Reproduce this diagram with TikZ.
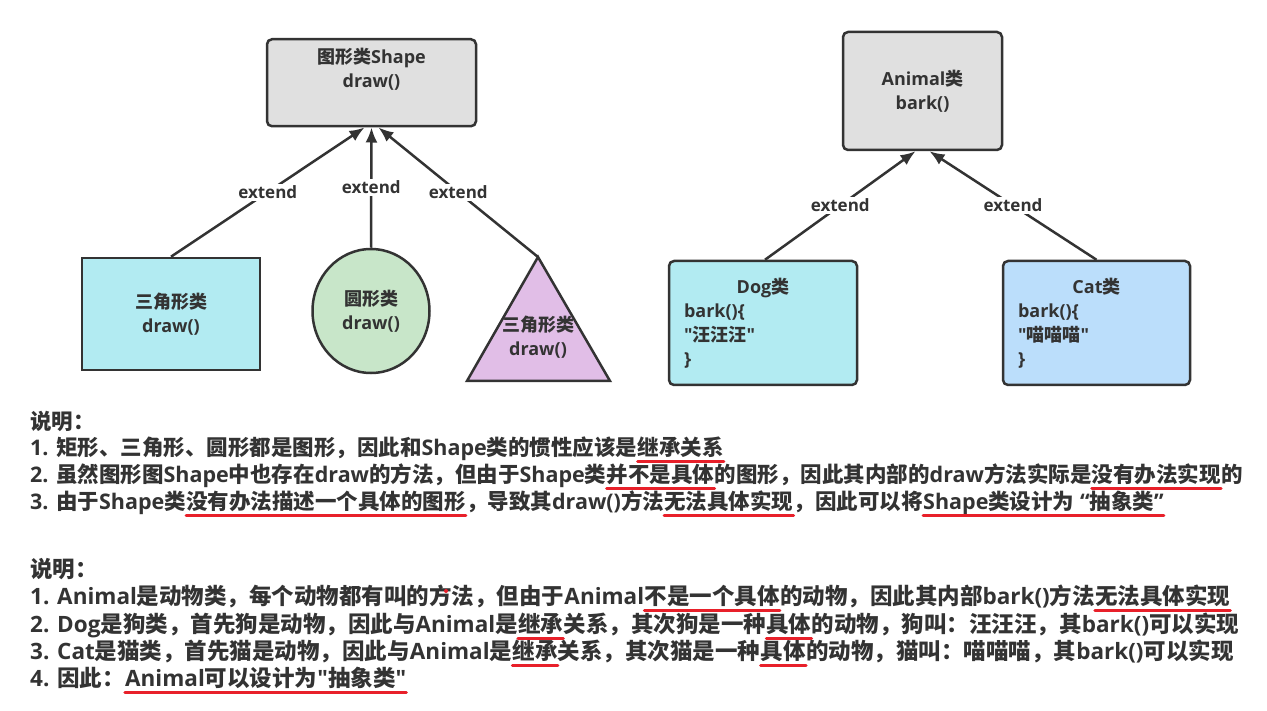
\documentclass[tikz,border=0pt]{standalone}
\usepackage{fontspec}
\newfontfamily\latfont{Open Sans}
\newfontfamily\cjkfont{Noto Sans CJK SC}
% automatic switch: CJK characters in Noto Sans CJK SC, Latin in Open Sans
\XeTeXinterchartokenstate=1
\newXeTeXintercharclass\cjkcls
\newcount\cjkc
\def\setcjkrange#1#2{\cjkc=#1\relax
  \loop\XeTeXcharclass\cjkc=\cjkcls\relax
  \ifnum\cjkc<#2\relax\advance\cjkc by 1\repeat}
\setcjkrange{"3000}{"303F}
\setcjkrange{"4E00}{"9FFF}
\setcjkrange{"FF00}{"FFEF}
\XeTeXinterchartoks 0 \cjkcls = {\cjkfont}
\XeTeXinterchartoks 4095 \cjkcls = {\cjkfont}
\XeTeXinterchartoks \cjkcls 0 = {\latfont}
\XeTeXinterchartoks \cjkcls 4095 = {\latfont}
\usetikzlibrary{arrows.meta,shapes.geometric}
\definecolor{ink}{HTML}{333333}
\definecolor{boxgray}{HTML}{E0E0E0}
\definecolor{cyanfill}{HTML}{B2EBF2}
\definecolor{greenfill}{HTML}{C8E6C9}
\definecolor{purplefill}{HTML}{E1BEE7}
\definecolor{bluefill}{HTML}{BBDEFB}
\definecolor{redline}{HTML}{E8202A}
\tikzset{
  outline/.style={draw=ink, line width=2.5pt},
  classbox/.style={outline, rounded corners=5pt, fill=boxgray},
  boxtxt/.style={text=ink, align=center, inner sep=0pt, font=\latfont\bfseries\fontsize{18}{24}\selectfont},
  conn/.style={draw=ink, line width=2.5pt, -{Latex[length=15pt,width=12pt]}},
  lbl/.style={fill=white, inner sep=2pt, text=ink, font=\latfont\bfseries\fontsize{17}{20}\selectfont},
  txt/.style={anchor=base west, inner sep=0pt, text=ink, font=\latfont\bfseries\fontsize{21.5}{27}\selectfont},
  txtb/.style={txt, font=\latfont\bfseries\fontsize{22.5}{27}\selectfont},
  uline/.style={draw=redline, line width=3pt, line cap=round},
}
\newcommand{\ul}[1]{\draw[uline] ([yshift=-5.5pt]#1.base west) -- ([yshift=-5.5pt]#1.base east);}
\begin{document}
\begin{tikzpicture}[x=1pt,y=-1pt]
\useasboundingbox[fill=white] (0,0) rectangle (1267,711);

% ---------- left diagram ----------
\node[classbox, minimum width=209pt, minimum height=87pt, anchor=north] (shape) at (371.5,38) {};
\node[boxtxt] (shapetxt) at ([yshift=-31.5pt]shape.north) {图形类Shape\\draw()};

\node[outline, fill=cyanfill, minimum width=178pt, minimum height=112pt, boxtxt, inner sep=0pt] (rect) at (171,314) {三角形类\\draw()};
\node[outline, ellipse, fill=greenfill, minimum width=117pt, minimum height=124pt, boxtxt, inner sep=0pt] (circ) at (371,311) {圆形类\\draw()};

\coordinate (triapex) at (538,257);
\coordinate (trileft) at (467,381);
\coordinate (triright) at (610,381);
\draw[outline, fill=purplefill, line join=miter] (triapex) -- (triright) -- (trileft) -- cycle;
\node[boxtxt] (tritxt) at (538,337) {三角形类\\draw()};

\draw[conn] (rect.north) -- node[lbl]{extend} ([xshift=-7pt]shape.south);
\draw[conn] (circ.north) -- node[lbl]{extend} (shape.south);
\draw[conn] (triapex) -- node[lbl]{extend} ([xshift=7pt]shape.south);

% ---------- right diagram ----------
\node[classbox, minimum width=159pt, minimum height=118pt, boxtxt] (animal) at (922.5,91) {Animal类\\bark()};
\node[classbox, fill=cyanfill, minimum width=188pt, minimum height=124pt, boxtxt, align=left, text width=158pt] (dog) at (763,323)
  {\makebox[\linewidth][c]{Dog类}\\bark()\{\\"汪汪汪"\\\}};
\node[classbox, fill=bluefill, minimum width=187pt, minimum height=124pt, boxtxt, align=left, text width=157pt] (cat) at (1096.5,323)
  {\makebox[\linewidth][c]{Cat类}\\bark()\{\\"喵喵喵"\\\}};

\draw[conn] ([xshift=2pt]dog.north) -- node[lbl]{extend} ([xshift=-7pt]animal.south);
\draw[conn] (cat.north) -- node[lbl]{extend} ([xshift=7pt]animal.south);

% ---------- text block 1 ----------
\node[txt] (a0) at (30,429) {说明：};
\node[txt] (a1) at (30,455.5) {1. 矩形、三角形、圆形都是图形，因此和Shape类的惯性应该是};
\node[txt] (a1u) at (a1.base east) {继承关系};
\node[txt] (a2) at (30,482.5) {2. 虽然图形图Shape中也存在draw的方法，但由于Shape类};
\node[txt] (a2u) at (a2.base east) {并不是具体};
\node[txt] (a2b) at (a2u.base east) {的图形，因此其内部的draw方法实际是};
\node[txt] (a2v) at (a2b.base east) {没有办法实现};
\node[txt] (a2c) at (a2v.base east) {的};
\node[txt] (a3) at (30,509.5) {3. 由于Shape类};
\node[txt] (a3u) at (a3.base east) {没有办法描述一个具体的图形};
\node[txt] (a3b) at (a3u.base east) {，导致其draw()方法};
\node[txt] (a3v) at (a3b.base east) {无法具体实现};
\node[txt] (a3c) at (a3v.base east) {，因此可以将};
\node[txt] (a3w) at (a3c.base east) {Shape类设计为 “抽象类”};
\ul{a1u} \ul{a2u} \ul{a2v} \ul{a3u} \ul{a3v} \ul{a3w}

% ---------- text block 2 ----------
\node[txtb] (b0) at (30,577.5) {说明：};
\node[txtb] (b1) at (30,604.5) {1. Animal是动物类，每个动物都有叫的方法，但由于Animal};
\node[txtb] (b1u) at (b1.base east) {不是一个具体};
\node[txtb] (b1b) at (b1u.base east) {的动物，因此其内部bark()方法};
\node[txtb] (b1v) at (b1b.base east) {无法具体实现};
\node[txtb] (b2) at (30,632.5) {2. Dog是狗类，首先狗是动物，因此与Animal是};
\node[txtb] (b2u) at (b2.base east) {继承};
\node[txtb] (b2b) at (b2u.base east) {关系，其次狗是一种};
\node[txtb] (b2v) at (b2b.base east) {具体};
\node[txtb] (b2c) at (b2v.base east) {的动物，狗叫：汪汪汪，其bark()可以实现};
\node[txtb] (b3) at (30,659.5) {3. Cat是猫类，首先猫是动物，因此与Animal是};
\node[txtb] (b3u) at (b3.base east) {继承};
\node[txtb] (b3b) at (b3u.base east) {关系，其次猫是一种};
\node[txtb] (b3v) at (b3b.base east) {具体};
\node[txtb] (b3c) at (b3v.base east) {的动物，猫叫：喵喵喵，其bark()可以实现};
\node[txtb] (b4) at (30,686.5) {4. 因此：};
\node[txtb] (b4u) at (b4.base east) {Animal可以设计为"抽象类"};
\ul{b1u} \ul{b1v} \ul{b2u} \ul{b2v} \ul{b3u} \ul{b3v} \ul{b4u}
\fill[redline] (446,591) circle (2pt);
\end{tikzpicture}
\end{document}
